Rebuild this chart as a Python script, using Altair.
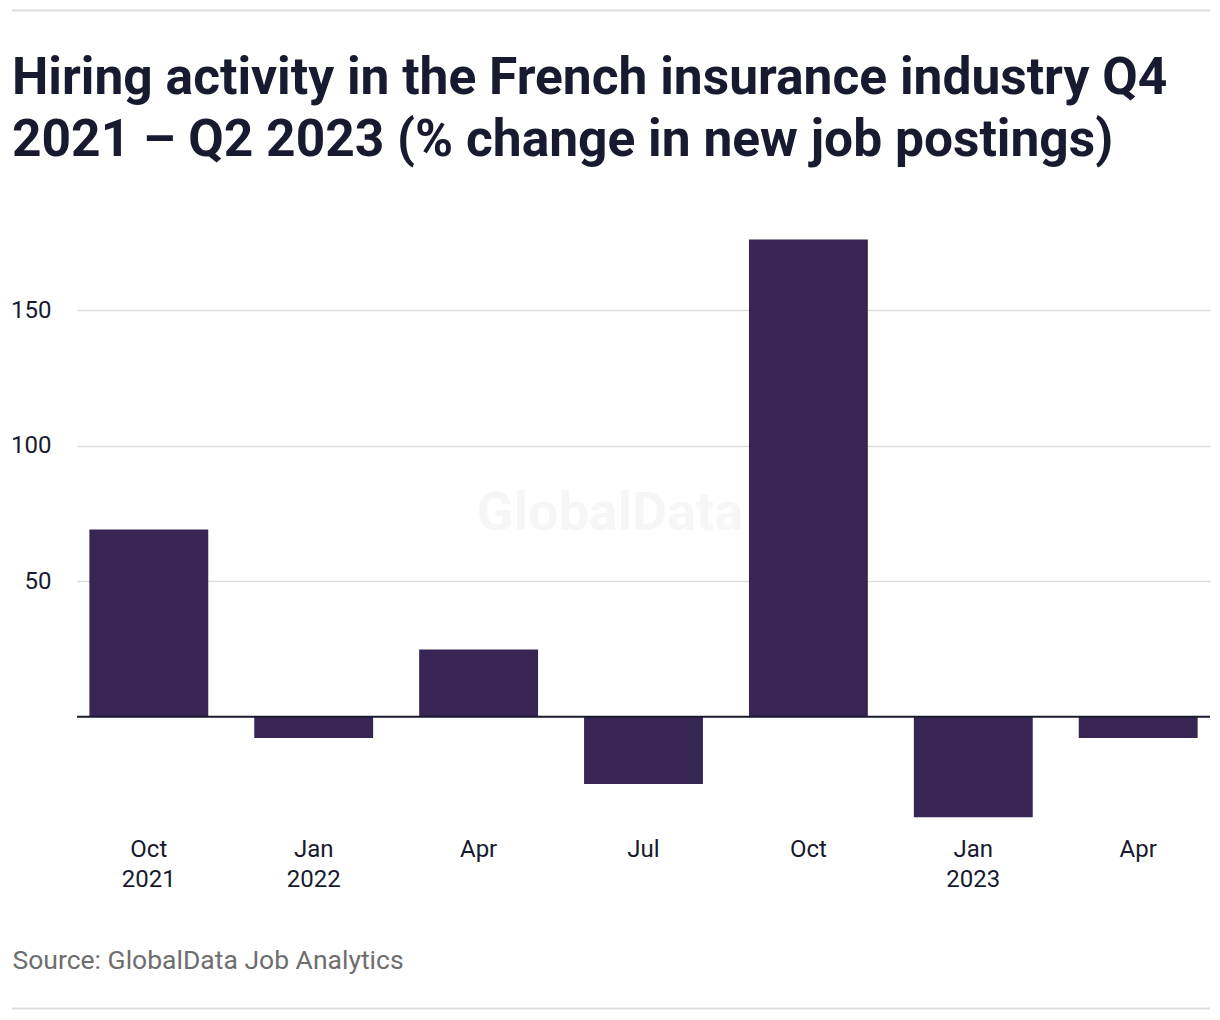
import altair as alt
import pandas as pd

# ---- data ----
quarters = ["Q4 2021", "Q1 2022", "Q2 2022", "Q3 2022", "Q4 2022", "Q1 2023", "Q2 2023"]
tick_months = ["Oct", "Jan", "Apr", "Jul", "Oct", "Jan", "Apr"]
tick_years = ["2021", "2022", "", "", "", "2023", ""]
pct_change = [69.1, -7.9, 24.8, -24.9, 176.1, -37.1, -7.9]
y_ticks = [50, 100, 150]
y_domain = [-40, 180]

title_lines = [
    "Hiring activity in the French insurance industry Q4",
    "2021 \u2013 Q2 2023 (% change in new job postings)",
]
source_text = "Source: GlobalData Job Analytics"
watermark_text = "GlobalData"

FONT = "Roboto"
DARK = "#181a2f"
BAR = "#372553"
GRID = "#dddddd"

df = pd.DataFrame({"quarter": quarters, "value": pct_change})

parts = []
for q, m, yv in zip(quarters, tick_months, tick_years):
    lab = f"['{m}', '{yv}']" if yv else f"'{m}'"
    parts.append(f"datum.value === '{q}' ? {lab} : ")
label_expr = "".join(parts) + "datum.value"

W, H = 1133, 596

x_enc = alt.X(
    "quarter:N",
    sort=quarters,
    scale=alt.Scale(paddingInner=0.279, paddingOuter=0.075),
    axis=alt.Axis(
        labelExpr=label_expr,
        labelAngle=0,
        labelFont=FONT,
        labelFontSize=24,
        labelColor=DARK,
        labelPadding=12,
        labelLineHeight=30,
        labelBaseline="top",
        domain=False,
        ticks=False,
        tickSize=0,
        grid=False,
        title=source_text,
        titleFont=FONT,
        titleFontSize=26.5,
        titleFontWeight="normal",
        titleColor="#6e6e6e",
        titleAlign="left",
        titleBaseline="alphabetic",
        titleX=-65,
        titleY=143,
    ),
)
y_enc = alt.Y(
    "value:Q",
    scale=alt.Scale(domain=y_domain, nice=False),
    axis=alt.Axis(
        values=y_ticks,
        title=None,
        domain=False,
        ticks=False,
        tickSize=0,
        labelPadding=26,
        labelFont=FONT,
        labelFontSize=24,
        labelColor=DARK,
        grid=True,
        gridColor=GRID,
        gridWidth=1.5,
    ),
)

one = pd.DataFrame({"k": [0]})

watermark = alt.Chart(one).mark_text(
    text=watermark_text, font=FONT, fontSize=54, fontWeight="bold",
    color="#f6f6f6", align="center", baseline="alphabetic"
).encode(x=alt.value(533), y=alt.value(300.6))

bars = alt.Chart(df).mark_bar(color=BAR).encode(
    x=x_enc, y=y_enc, y2=alt.datum(0)
)

zero_rule = alt.Chart(one).mark_rule(color=DARK, strokeWidth=2).encode(
    y=alt.datum(0), x=alt.value(0), x2=alt.value(W)
)

top_rule = alt.Chart(one).mark_rule(color=GRID, strokeWidth=2).encode(
    x=alt.value(-65), x2=alt.value(W), y=alt.value(-218.4)
)
bottom_rule = alt.Chart(one).mark_rule(color=GRID, strokeWidth=2).encode(
    x=alt.value(-65), x2=alt.value(W), y=alt.value(779.6)
)

chart = alt.layer(watermark, bars, zero_rule, top_rule, bottom_rule).properties(
    width=W,
    height=H,
    padding={"left": 69, "top": 221, "right": 2, "bottom": 186},
    autosize=alt.AutoSizeParams(type="none"),
    title=alt.TitleParams(
        text=title_lines,
        anchor="start",
        frame="group",
        dx=-65,
        offset=-198,
        font=FONT,
        fontSize=51.5,
        fontWeight="bold",
        color=DARK,
        lineHeight=62,
        baseline="alphabetic",
    ),
).configure_view(stroke=None)

chart.save("out.html", embed_options={"renderer": "svg", "actions": False})
